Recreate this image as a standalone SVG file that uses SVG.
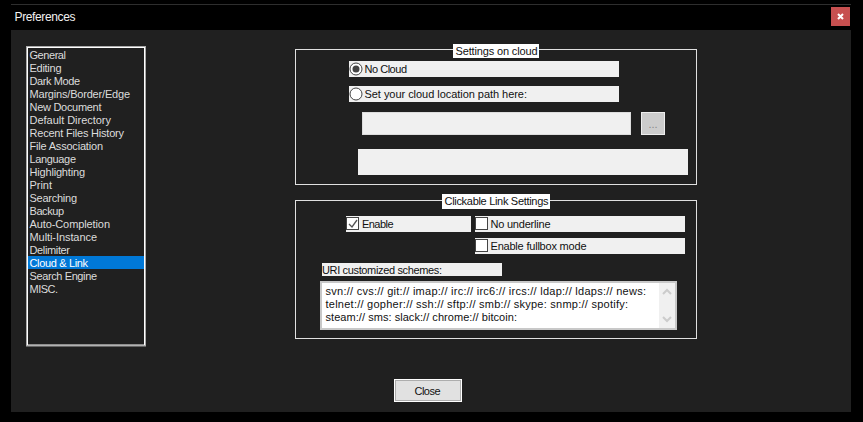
<svg xmlns="http://www.w3.org/2000/svg" width="863" height="422" viewBox="0 0 863 422">
<style>
text{font-family:"Liberation Sans",Arial,sans-serif;font-size:11px}
.l{fill:#dcdcdc}
.d{fill:#111}
.bar{fill:#f0f0f0}
.frame{fill:none;stroke:#e0e0e0;stroke-width:1}
.box{fill:#fff;stroke:#444;stroke-width:1}
</style>
<rect width="863" height="422" fill="#000"/>
<rect x="11" y="4" width="840" height="1" fill="#2e2e2e"/>
<rect x="11" y="30" width="840" height="382" fill="#202020"/>
<g id="titlebar">
<text x="14.500" y="21" fill="#f2f2f2" textLength="61" style="font-size:12px">Preferences</text>
<rect x="831" y="7" width="19" height="19" fill="#c75050"/>
<path d="M838 14l5 5M843 14l-5 5" stroke="#fff" stroke-width="2" fill="none"/>
</g>
<g id="category-list">
<rect x="26.500" y="46.500" width="119" height="299.500" fill="none" stroke="#aaa"/>
<rect x="27.500" y="47.500" width="117" height="297.500" fill="#202020" stroke="#fff"/>
<rect x="28" y="256" width="116" height="13" fill="#0078d7"/>
<g class="l">
<text x="29.500" y="59" textLength="36.500">General</text>
<text x="29.500" y="72" textLength="32">Editing</text>
<text x="29.500" y="85" textLength="50.500">Dark Mode</text>
<text x="29.500" y="98" textLength="100.500">Margins/Border/Edge</text>
<text x="29.500" y="111" textLength="72">New Document</text>
<text x="29.500" y="124" textLength="81.500">Default Directory</text>
<text x="29.500" y="137" textLength="94.500">Recent Files History</text>
<text x="29.500" y="150" textLength="73.500">File Association</text>
<text x="29.500" y="163" textLength="46.500">Language</text>
<text x="29.500" y="176" textLength="55.500">Highlighting</text>
<text x="29.500" y="189" textLength="22.500">Print</text>
<text x="29.500" y="202" textLength="47.500">Searching</text>
<text x="29.500" y="215" textLength="34.500">Backup</text>
<text x="29.500" y="228" textLength="80.500">Auto-Completion</text>
<text x="29.500" y="241" textLength="67.500">Multi-Instance</text>
<text x="29.500" y="254" textLength="40.500">Delimiter</text>
<text x="29.500" y="267" fill="#fff" textLength="58.500">Cloud &amp; Link</text>
<text x="29.500" y="280" textLength="67.500">Search Engine</text>
<text x="29.500" y="293" textLength="28.500">MISC.</text>
</g>
</g>
<g id="settings-on-cloud">
<rect class="frame" x="295.500" y="49.500" width="401" height="135"/>
<rect x="453" y="44" width="86" height="14" fill="#fff"/>
<text class="d" x="455.500" y="54.500" textLength="82">Settings on cloud</text>
<rect class="bar" x="349" y="61" width="270" height="16"/>
<circle cx="356" cy="69" r="6" fill="#fff" stroke="#444"/>
<circle cx="356" cy="69" r="3.500" fill="#444"/>
<text class="d" x="364.500" y="73" textLength="42.500">No Cloud</text>
<rect class="bar" x="349" y="86" width="270" height="16"/>
<circle cx="356" cy="94" r="6" fill="#fff" stroke="#444"/>
<text class="d" x="364.500" y="98" textLength="162.500">Set your cloud location path here:</text>
<rect x="362.500" y="112.500" width="268" height="22" fill="#f0f0f0" stroke="#ddd"/>
<rect x="641.500" y="112.500" width="23" height="22" fill="#ccc" stroke="#eee"/>
<text x="653" y="128" text-anchor="middle" fill="#888">...</text>
<rect class="bar" x="358" y="149" width="330" height="26"/>
</g>
<g id="clickable-link-settings">
<rect class="frame" x="295.500" y="200.500" width="401" height="138"/>
<rect x="442" y="194" width="108" height="15" fill="#fff"/>
<text class="d" x="444.500" y="205" textLength="104">Clickable Link Settings</text>
<rect class="bar" x="346" y="216" width="125" height="16"/>
<rect class="box" x="346.500" y="217.500" width="12" height="12"/>
<path d="M349 224l3 3 5-7" fill="none" stroke="#555" stroke-width="1.300"/>
<text class="d" x="362" y="228" textLength="31.500">Enable</text>
<rect class="bar" x="475" y="216" width="210" height="16"/>
<rect class="box" x="475.500" y="217.500" width="12" height="12"/>
<text class="d" x="490.500" y="228" textLength="60">No underline</text>
<rect class="bar" x="475" y="238" width="210" height="16"/>
<rect class="box" x="475.500" y="239.500" width="12" height="12"/>
<text class="d" x="490.500" y="250" textLength="96">Enable fullbox mode</text>
<rect class="bar" x="322" y="263" width="180" height="13"/>
<text class="d" x="322" y="274" textLength="120">URI customized schemes:</text>
<rect x="321" y="282" width="355" height="47" fill="#fff" stroke="#c8c8c8" stroke-width="2"/>
<rect x="659" y="283" width="16" height="45" fill="#f0f0f0"/>
<path d="M663 294l4-4 4 4M663 317l4 4 4-4" fill="none" stroke="#ccc" stroke-width="2"/>
<text class="d" x="325.500" y="295" textLength="320.500">svn:// cvs:// git:// imap:// irc:// irc6:// ircs:// ldap:// ldaps:// news:</text>
<text class="d" x="325.500" y="308" textLength="302.500">telnet:// gopher:// ssh:// sftp:// smb:// skype: snmp:// spotify:</text>
<text class="d" x="325.500" y="321" textLength="191.500">steam:// sms: slack:// chrome:// bitcoin:</text>
</g>
<g id="close-button">
<rect x="394.500" y="379.500" width="67" height="22" fill="#e1e1e1" stroke="#fff"/>
<rect x="395.500" y="380.500" width="65" height="20" fill="none" stroke="#adadad"/>
<text class="d" x="414.500" y="395" textLength="26">Close</text>
</g>
</svg>
